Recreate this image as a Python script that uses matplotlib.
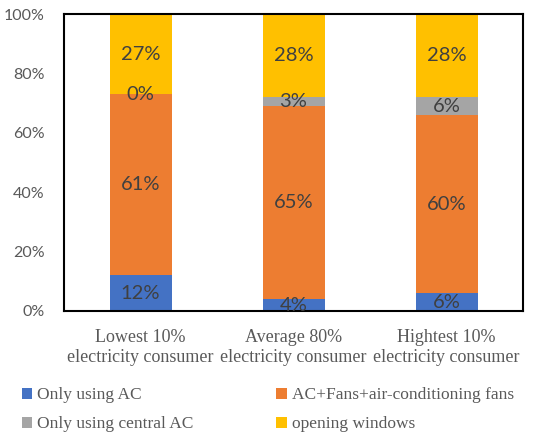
import numpy as np
import matplotlib.pyplot as plt

# share of households per cooling behaviour (%)
groups = ['Lowest 10%\nelectricity consumer', 'Average 80%\nelectricity consumer',
          'Hightest 10%\nelectricity consumer']
series = ['Only using AC', 'AC+Fans+air-conditioning fans',
          'Only using central AC', 'opening windows']
only_ac = [12, 4, 6]
ac_fans = [61, 65, 60]
central_ac = [0, 3, 6]
windows = [27, 28, 28]
yticks = [0, 20, 40, 60, 80, 100]

colors = ['#4472C4', '#ED7D31', '#A5A5A5', '#FFC000']
sans = 'Lato'
serif = 'Liberation Serif'

fig = plt.figure(figsize=(5.5, 4.38), dpi=100)
ax = fig.add_axes([0.1164, 0.29, 0.8346, 0.678])

x = np.arange(len(groups))
bottom = np.zeros(len(groups))
handles = []
for name, vals, col in zip(series, [only_ac, ac_fans, central_ac, windows], colors):
    vals = np.array(vals, dtype=float)
    b = ax.bar(x, vals, 0.405, bottom=bottom, color=col, label=name)
    handles.append(b)
    for xi, v, b0 in zip(x, vals, bottom):
        ax.text(xi, b0 + v / 2, f'{int(v)}%', ha='center', va='center',
                fontsize=14.5, color='#404040', family=sans)
    bottom += vals

ax.set_xlim(-0.5, 2.5)
ax.set_ylim(0, 100)
ax.set_yticks(yticks)
ax.set_yticklabels([f'{t}%' for t in yticks], family=sans, fontsize=11.5, color='#595959')
ax.set_xticks(x)
ax.set_xticklabels(groups, family=serif, fontsize=13, color='#595959', linespacing=1.25)
ax.tick_params(axis='y', length=0, pad=14)
ax.tick_params(axis='x', length=0, pad=13)
for s in ax.spines.values():
    s.set_linewidth(1.5)
    s.set_color('black')

order = [0, 2, 1, 3]
leg = fig.legend([handles[i] for i in order], [series[i] for i in order],
                 ncol=2, loc='center left', bbox_to_anchor=(0.011, 0.064),
                 frameon=False, handlelength=0.6, handleheight=0.6, handletextpad=0.3,
                 columnspacing=4.75, labelspacing=0.75,
                 prop={'family': serif, 'size': 12.5})
for t in leg.get_texts():
    t.set_color('#595959')

fig.savefig('out.png')
